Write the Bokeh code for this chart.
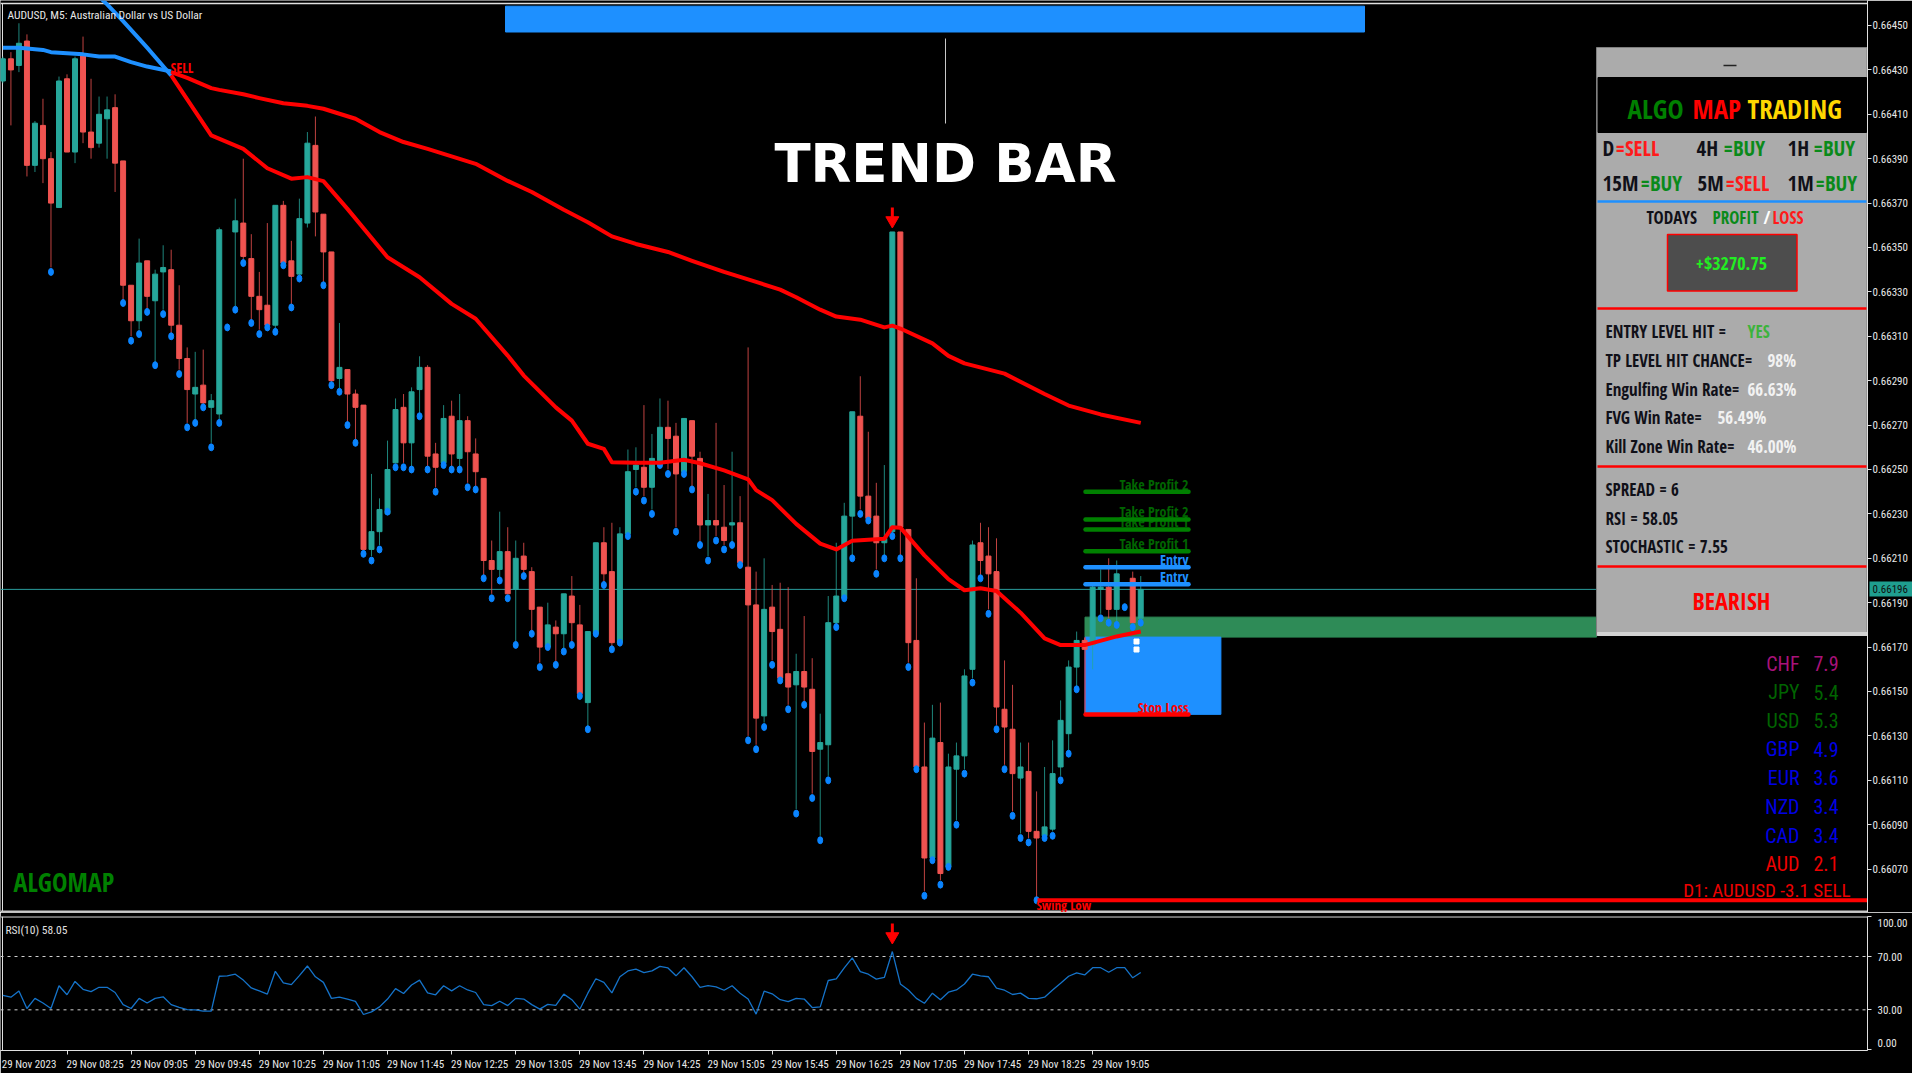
from bokeh.plotting import figure
from bokeh.layouts import column
from bokeh.models import Range1d, LinearAxis, FixedTicker, NumeralTickFormatter
from bokeh.core.properties import value
from bokeh.embed import file_html
from bokeh.resources import INLINE

# ---- candle data, in points above 0.66000 (1 point = 0.00001), bar index = position in the list
bar_open = [425,435,432,443,387,405,390,368,426,393,
 437,402,397,408,413,389,333,317,344,326,
 339,340,315,300,284,288,278,275,None,357,
 361,345,328,324,315,369,344,338,361,396,
 365,348,291,295,284,279,214,222,230,253,
 278,262,286,296,257,253,274,255,272,257,
 246,209,205,213,196,211,204,188,170,179,
 176,193,180,145,176,217,204,172,221,250,
 251,242,254,269,265,249,272,255,225,227,
 224,225,226,206,189,139,188,178,158,153,
 159,151,124,126,181,192,229,274,238,229,
 217,222,357,223,173,116,75,127,71,115,
 121,160,217,211,204,142,133,111,114,87,
 85,88,116,131,161,173,171,196,197,187,
 None,201,183]
bar_high = [436,438,451,446,407,417,393,427,428,436,
 445,426,418,418,419,389,333,354,344,340,
 351,349,333,305,303,304,284,359,None,372,
 390,356,339,361,369,371,353,372,402,409,
 365,348,316,295,286,279,248,237,263,282,
 284,287,301,297,262,279,281,284,274,264,
 246,218,231,224,218,217,206,188,190,182,
 194,202,189,177,217,224,226,224,259,260,
 279,266,282,281,271,273,272,258,239,271,
 243,258,238,305,204,210,198,199,197,167,
 184,165,140,193,217,235,276,292,267,244,
 252,357,357,223,201,136,144,145,122,127,
 160,218,226,224,219,164,153,127,127,105,
 116,128,146,164,177,174,198,205,210,209,
 None,204,202]
bar_low = [424,405,429,382,384,379,341,368,393,388,
 397,390,395,390,375,326,310,313,322,298,
 322,311,295,271,272,279,262,272,None,323,
 344,317,313,315,313,343,324,337,359,355,
 334,289,286,271,263,213,211,216,230,253,
 253,251,275,251,242,253,251,251,244,242,
 202,194,201,194,172,203,177,163,170,163,
 169,172,149,134,176,199,170,172,221,242,
 238,232,253,250,224,249,242,217,211,220,
 216,217,208,130,126,136,164,156,144,97,
 145,104,85,112,180,192,211,232,228,205,
 211,221,211,163,116,60,75,65,71,92,
 115,156,202,187,135,117,96,86,84,56,
 85,87,112,123,152,169,160,185,183,181,
 None,181,183]
bar_close = [435,430,442,387,406,390,370,425,393,435,
 402,395,410,412,388,333,317,343,328,338,
 341,315,300,286,287,280,281,358,None,362,
 346,328,322,315,369,343,337,363,397,366,
 348,290,296,284,278,214,222,232,250,277,
 262,285,296,256,251,273,257,272,258,249,
 209,205,213,194,210,205,187,170,180,176,
 194,181,149,177,217,203,172,221,249,252,
 242,255,269,264,248,273,256,225,227,225,
 218,226,208,189,138,187,177,156,152,159,
 152,123,127,181,193,229,276,238,228,217,
 219,357,224,172,116,75,129,68,116,121,
 157,216,209,203,143,134,113,116,87,84,
 89,113,137,161,173,169,197,197,187,203,
 None,181,196]
fractal_dots = [None,None,None,None,None,None,339,None,None,None,
 None,None,None,None,None,325,308,311,321,297,
 320,310,293,269,271,278,260,271,314,322,
 343,316,311,314,312,342,323,336,None,None,
 333,288,285,270,262,212,209,214,231,251,
 251,250,274,250,240,252,250,250,242,241,
 201,192,200,192,171,202,176,161,170,162,
 168,171,148,133,176,198,169,172,220,240,
 236,230,252,248,222,248,241,216,209,218,
 214,216,207,128,124,134,162,155,142,95,
 144,102,83,110,179,192,210,230,227,203,
 210,220,210,161,115,58,74,63,71,90,
 113,154,201,185,133,115,94,84,82,56,
 84,85,110,122,151,None,None,183,181,180,
 188,179,181]

# ---- moving averages: bar index and value in points
slow_blue_bars = [0,2,5,6,8,10,12,14,16,18,21]
slow_blue_vals = [440,440,439,438,437.5,437,436,436,433.5,431.5,429.3]
slow_red_bars = [21,23,26,27,30,32,35,38,40,44,47,50,53,59,63,66,70,73,76,79,83,86,90,94,97,99,102,104,107,110,111,112,116,118,120,125,130,133,137,142]
slow_red_vals = [429,426.4,421.8,421,419,417.3,415,413.8,412.5,408,402,397.5,394.4,387.7,380,375,367,361.4,355,351.6,348,344,339,334.5,331,327.6,322,318.9,317.5,314,314.8,313.5,306.8,301.2,297.8,293.2,284,278.8,274.8,271]
fast_blue_bars = [12,13,15,18,21]
fast_blue_vals = [463,459.5,452,440,427.5]
fast_red_bars = [21,26,30,33,36,38,40,43,48,52,56,59,63,65,69,71,73,75,76,79,82,85,87,90,93,94,96,99,102,104,106,110,111,112,115,118,120,122,124,127,130,132,135,139,142]
fast_red_vals = [427.5,400.5,394.4,385.7,381,381.7,379.9,367.4,345.6,336.6,324.6,317.9,301.3,292.3,278,272,261.6,259.3,253.3,253,253,254.4,252.8,249.6,245.6,240.7,236.2,225.5,216.6,214,217.9,218.8,224,223.8,211.3,200.6,195.6,196.5,195.3,185.5,173.9,170.9,170.9,174.8,177]

# ---- RSI(10), one value per bar
rsi_vals = [40.8,39.5,44.2,31,38.6,35.1,31,48.1,41.3,51.3,
 45.4,43.7,46.9,46.9,43,33.9,31,38.6,35.1,38.6,
 39.8,33.9,31.9,30.2,30,29,29,55.2,55.5,56.7,
 52.3,46.4,44.2,41.8,58.9,50.3,48.9,55.7,62.9,54.8,
 50.6,38.6,39.5,38.1,36.4,26.5,28.5,32.2,38.1,45.9,
 42.2,48.6,52.3,42.7,41.3,48.1,44.2,48.1,44.9,43,
 33.9,33.2,36.4,33.2,38.6,38.1,33.9,30.5,34.1,33.4,
 41.8,37.6,30.5,42.5,53.3,50.6,42.7,54.8,59.2,60.6,
 57.9,59.2,62.6,61.4,55.5,61.6,54.8,46.9,48.1,47.2,
 44.7,48.1,42.5,38.1,26.8,44,42,37.6,36.1,38.6,
 38.1,31.7,32.2,52,53.3,61.4,69,58.7,56.7,53,
 54.3,73.7,49.4,44.9,38.6,34.9,42.5,37.6,43.2,44.9,
 49.4,56.7,55.5,54.8,46.2,44.7,41.5,42.5,38.6,38.3,
 39.5,44.9,49.9,55.2,57.7,56.2,61.6,61.6,58.2,61.6,
 61.6,54,58.05]

# ---- axis texts
price_ticks = [0.6645,0.6643,0.6641,0.6639,0.6637,0.6635,0.6633,0.6631,0.6629,0.6627,0.6625,0.6623,0.6621,0.6619,0.6617,0.6615,0.6613,0.6611,0.6609,0.6607]
rsi_ticks = [0,30,70,100]
rsi_tick_labels = ["0.00","30.00","70.00","100.00"]
time_labels = ["29 Nov 2023","29 Nov 08:25","29 Nov 09:05","29 Nov 09:45","29 Nov 10:25","29 Nov 11:05","29 Nov 11:45","29 Nov 12:25","29 Nov 13:05","29 Nov 13:45","29 Nov 14:25","29 Nov 15:05","29 Nov 15:45","29 Nov 16:25","29 Nov 17:05","29 Nov 17:45","29 Nov 18:25","29 Nov 19:05"]
time_tick_bars = [0,8,16,24,32,40,48,56,64,72,80,88,96,104,112,120,128,136]

# ---- levels (points)
level_names = ["Take Profit 2","Take Profit 2","Take Profit 1","Take Profit 1","Entry","Entry","Stop Loss"]
level_vals = [240,227.5,223,213.2,206,198.3,139.6]
last_price = 196
swing_low = 56
currencies = ["CHF","JPY","USD","GBP","EUR","NZD","CAD","AUD"]
strength = ["7.9","5.4","5.3","4.9","3.6","3.4","3.4","2.1"]

# ---- conversion of bars/points and of picture positions
THIN_NAME = "Roboto Condensed"
THIN = value(THIN_NAME)
HEAVY = value("Open Sans Condensed")
GREEN, RED_C = "#26A69A", "#EF5350"
BLUE = "#1E90FF"
LINE = "#E0E0E0"
def pr(v):  return 0.66 + v * 1e-5
def fx(x):  return (x - 2.4) / 8.013
def fy(y):  return pr(461.26 - 0.45045 * y)
def ry(y):  return (1049.3 - y) / 1.333

x_range = Range1d(fx(0), fx(1867))
p = figure(frame_width=1867, frame_height=912, x_range=x_range, y_range=Range1d(fy(912), fy(0)),
           output_backend="svg", toolbar_location=None, x_axis_location=None, y_axis_location=None,
           background_fill_color="#000000", border_fill_color="#000000", outline_line_color=None,
           min_border_left=0, min_border_top=0, min_border_bottom=0, min_border_right=45)
p.grid.visible = False
q = figure(frame_width=1867, frame_height=134, x_range=x_range, y_range=Range1d(-0.5, 100),
           output_backend="svg", toolbar_location=None, x_axis_location=None, y_axis_location=None,
           background_fill_color="#000000", border_fill_color="#000000", outline_line_color=None,
           min_border_left=0, min_border_top=4, min_border_bottom=22, min_border_right=45)
q.grid.visible = False

price_axis = LinearAxis(ticker=FixedTicker(ticks=price_ticks), axis_line_color=LINE, major_tick_line_color=LINE,
                        major_tick_in=0, major_tick_out=4, minor_tick_line_color=None, major_label_standoff=1,
                        major_label_text_color="#E8E8E8", major_label_text_font=THIN_NAME,
                        major_label_text_font_size="11px", formatter=NumeralTickFormatter(format="0.00000"))
p.add_layout(price_axis, "right")
# last price tag: a short, thick stretch of a second axis with its one tick label on it
tag_axis = LinearAxis(ticker=FixedTicker(ticks=[pr(last_price)]), bounds=(pr(last_price - 3.4), pr(last_price + 3.4)),
                      axis_line_color="#1F9E8F", axis_line_width=82, major_tick_line_color=None, minor_tick_line_color=None,
                      major_tick_in=0, major_tick_out=0, major_label_standoff=-38, major_label_text_color="#101010",
                      major_label_text_font=THIN_NAME, major_label_text_font_size="11px",
                      formatter=NumeralTickFormatter(format="0.00000"))
p.add_layout(tag_axis, "right")

# RSI scale: ticks on the levels, outer labels pulled inside the panel as on the chart
rsi_mark_axis = LinearAxis(ticker=FixedTicker(ticks=rsi_ticks), major_label_overrides={k: "" for k in rsi_ticks},
                           axis_line_color=LINE, major_tick_line_color=LINE, major_tick_in=0, major_tick_out=4,
                           minor_tick_line_color=None, major_label_standoff=0, major_label_text_font_size="1px",
                           major_label_text_color=None)
q.add_layout(rsi_mark_axis, "right")
rsi_label_pos = [5.3, 30, 70, 95.5]
rsi_label_axis = LinearAxis(ticker=FixedTicker(ticks=rsi_label_pos), major_label_overrides=dict(zip(rsi_label_pos, rsi_tick_labels)),
                            axis_line_color=None, major_tick_line_color=None, minor_tick_line_color=None,
                            major_label_standoff=0, major_label_text_color="#E8E8E8",
                            major_label_text_font=THIN_NAME, major_label_text_font_size="11px")
q.add_layout(rsi_label_axis, "right")

# bottom axes: tick marks on the bars, labels to the right of their ticks as on the chart
tick_axis = LinearAxis(ticker=FixedTicker(ticks=time_tick_bars[1:]), major_label_overrides={k: "" for k in time_tick_bars[1:]},
                       axis_line_color=LINE, major_tick_line_color=LINE, major_tick_in=0, major_tick_out=4,
                       minor_tick_line_color=None, major_label_standoff=0, major_label_text_font_size="1px",
                       major_label_text_color=None)
q.add_layout(tick_axis, "below")
label_pos = [3.27] + [b + 3.5 for b in time_tick_bars[1:]]
label_axis = LinearAxis(ticker=FixedTicker(ticks=label_pos), major_label_overrides=dict(zip(label_pos, time_labels)),
                        axis_line_color=None, major_tick_line_color=None, minor_tick_line_color=None,
                        major_label_standoff=-3, major_label_text_color="#E8E8E8",
                        major_label_text_font=THIN_NAME, major_label_text_font_size="11px")
q.add_layout(label_axis, "below")

# chart frame lines of the picture
p.line([fx(0), fx(1867)], [fy(3), fy(3)], color=LINE, line_width=1.5)
p.line([fx(2), fx(2)], [fy(3), fy(912)], color=LINE, line_width=1)
p.line([fx(0), fx(1867)], [fy(911), fy(911)], color="#C8C8C8", line_width=2)
q.line([fx(0), fx(1867)], [ry(916.5), ry(916.5)], color=LINE, line_width=1)
q.line([fx(2), fx(2)], [ry(916), ry(1050)], color=LINE, line_width=1)

# zones under the candles
p.quad(left=fx(1084.5), right=fx(1596), top=pr(183.5), bottom=pr(174.5), color="#2E8B57")
p.quad(left=fx(1084.5), right=fx(1220.4), top=pr(174.5), bottom=pr(139.7), color=BLUE)
p.segment(fx(1084.5), pr(174.5), fx(1084.5), pr(139.7), color="#FF3030", line_width=1)
p.segment(fx(0), pr(last_price), fx(1596), pr(last_price), color="#2A9D9D", line_width=1)

# candles
ix = [i for i, v in enumerate(bar_open) if v is not None]
up = [i for i in ix if bar_close[i] >= bar_open[i]]
dn = [i for i in ix if bar_close[i] < bar_open[i]]
for idx, col in ((up, GREEN), (dn, RED_C)):
    p.segment(idx, [pr(bar_high[i]) for i in idx], idx, [pr(bar_low[i]) for i in idx], color=col, line_width=1, line_alpha=0.8)
    p.vbar(x=idx, width=0.62, top=[pr(max(bar_open[i], bar_close[i])) for i in idx],
           bottom=[pr(min(bar_open[i], bar_close[i])) for i in idx], color=col)
dot_ix = [i for i, v in enumerate(fractal_dots) if v is not None]
p.ellipse(x=dot_ix, y=[pr(fractal_dots[i]) for i in dot_ix], width=5, height=7, width_units="screen",
          height_units="screen", color="#0A84FF")

# moving averages
for bars, vals, col in ((slow_blue_bars, slow_blue_vals, BLUE), (fast_blue_bars, fast_blue_vals, BLUE),
                        (slow_red_bars, slow_red_vals, "#FF0000"), (fast_red_bars, fast_red_vals, "#FF0000")):
    p.line(bars, [pr(v) for v in vals], color=col, line_width=4, line_join="round")

# texts helper
def txt(fig, x, y, s, color, size, bold=False, align="left", font=None):
    f = font if font is not None else (HEAVY if bold else THIN)
    fig.text(x=[x], y=[y], text=[s], text_color=color, text_font=f, text_font_size=f"{size}px",
             text_font_style="bold" if bold else "normal", text_align=align, text_baseline="middle")

# level lines and their labels
for name, lv in zip(level_names, level_vals):
    col = "#006400" if name.startswith("Take") else (BLUE if name == "Entry" else "#FF0000")
    txt(p, fx(1188), pr(lv) + 7.5 * 0.45045e-5, name, col, 14, True, "right")
for name, lv in zip(level_names, level_vals):
    col = "#008000" if name.startswith("Take") else (BLUE if name == "Entry" else "#FF0000")
    p.line([fx(1085), fx(1188)], [pr(lv), pr(lv)], color=col, line_width=4.5, line_cap="round")
p.scatter([fx(1136), fx(1136)], [fy(641), fy(649)], marker="square", size=5, color="#FFFFFF")

# swing low
txt(p, fx(1036), fy(904), "Swing Low", "#FF0000", 13, True)
txt(p, fx(170), fy(67), "SELL", "#FF0000", 14, True)
txt(p, fx(7), fy(14), "AUDUSD, M5:  Australian Dollar vs US Dollar", "#E8E8E8", 11.5)
txt(p, fx(13), fy(881), "ALGOMAP", "#008000", 26, True)

# top banner
p.quad(left=fx(505), right=fx(1364), top=fy(5.7), bottom=fy(31.5), color=BLUE)
p.segment(fx(945), fy(38), fx(945), fy(123), color="#C8C8C8", line_width=1)
txt(p, fx(945), fy(162.5), "TREND BAR", "#FFFFFF", 53, True, "center", value("DejaVu Sans"))

# signal arrows
p.segment(111, fy(207), 111, fy(220), color="#FF0000", line_width=3)
p.scatter([111], [fy(220)], marker="inverted_triangle", size=13, color="#FF0000")
q.segment(111, ry(923), 111, ry(936), color="#FF0000", line_width=3)
q.scatter([111], [ry(936)], marker="inverted_triangle", size=13, color="#FF0000")

# RSI
for lv in (70, 30):
    q.line([fx(0), fx(1867)], [lv, lv], color="#D0D0D0", line_width=1, line_dash="3 4")
q.line(list(range(len(rsi_vals))), rsi_vals, color="#1573C9", line_width=1.3)
txt(q, fx(5), ry(929), "RSI(10) 58.05", "#E0E0E0", 11.5)

# side panel
GREY = "#ABABAB"
p.quad(left=fx(1596), right=fx(1866.5), top=fy(47), bottom=fy(635), color=GREY, line_color="#7F7F7F")
p.quad(left=fx(1597), right=fx(1866.5), top=fy(632), bottom=fy(635), color="#D2D2D2")
p.quad(left=fx(1597.5), right=fx(1866), top=fy(77), bottom=fy(132), color="#000000")
p.segment(fx(1723), fy(65), fx(1736), fy(65), color="#222222", line_width=1.5)
txt(p, fx(1627), fy(108), "ALGO", "#008000", 27, True)
txt(p, fx(1692), fy(108), "MAP", "#FF0000", 27, True)
txt(p, fx(1747), fy(108), "TRADING", "#FFD700", 27, True)
DARK, SIG_G, SIG_R = "#101018", "#0A8A1A", "#FF1A1A"
for x1, x2, y, a, b, col in ((1602,1615,147,"D","=SELL",SIG_R),(1696,1723,147,"4H","=BUY",SIG_G),(1787,1813,147,"1H","=BUY",SIG_G),
                             (1602,1640,182,"15M","=BUY",SIG_G),(1697,1725,182,"5M","=SELL",SIG_R),(1787,1815,182,"1M","=BUY",SIG_G)):
    txt(p, fx(x1), fy(y), a, DARK, 21, True)
    txt(p, fx(x2), fy(y), b, col, 21, True)
p.line([fx(1597), fx(1866)], [fy(201), fy(201)], color=BLUE, line_width=2.5)
txt(p, fx(1646), fy(217), "TODAYS", DARK, 17, True)
txt(p, fx(1712), fy(217), "PROFIT", "#0A8A1A", 17, True)
txt(p, fx(1763), fy(217), "/", "#FFFFFF", 17, True)
txt(p, fx(1772), fy(217), "LOSS", "#FF1A1A", 17, True)
p.quad(left=fx(1667), right=fx(1796.5), top=fy(234), bottom=fy(290.5), color="#4D4D4D", line_color="#FF0000", line_width=1.5)
txt(p, fx(1731), fy(262), "+$3270.75", "#22EE22", 18, True, "center")
for y in (308, 466, 566):
    p.line([fx(1597), fx(1866)], [fy(y), fy(y)], color="#FF0000", line_width=2.5)
for y, a, x2, b, col in ((331,"ENTRY LEVEL HIT =",1747,"YES","#3CB33C"),(360,"TP LEVEL HIT CHANCE=",1767,"98%","#F2F2F2"),
                         (389,"Engulfing Win Rate=",1747,"66.63%","#F2F2F2"),(417,"FVG Win Rate=",1717,"56.49%","#F2F2F2"),
                         (446,"Kill Zone Win Rate=",1747,"46.00%","#F2F2F2")):
    txt(p, fx(1605), fy(y), a, DARK, 17, True)
    txt(p, fx(x2), fy(y), b, col, 17, True)
for y, s in ((489,"SPREAD = 6"),(518,"RSI = 58.05"),(546,"STOCHASTIC = 7.55")):
    txt(p, fx(1605), fy(y), s, DARK, 17, True)
txt(p, fx(1731), fy(600), "BEARISH", "#FF0000", 24, True, "center")

# currency strength list
cur_cols = ["#A8127A","#006400","#006400","#0000E6","#0000E6","#0000E6","#0000E6","#EE0000"]
cur_y = [663,691.7,720,748.7,777,806,835,863]
for n, s, c, y in zip(currencies, strength, cur_cols, cur_y):
    txt(p, fx(1799), fy(y), n, c, 20, False, "right")
    txt(p, fx(1813), fy(y), s, c, 20)
txt(p, fx(1850), fy(890), "D1: AUDUSD -3.1 SELL", "#EE0000", 19, False, "right")
p.line([fx(1037), fx(1867)], [pr(swing_low), pr(swing_low)], color="#FF0000", line_width=4)

page = column(p, q, spacing=0)
open("out.html", "w").write(file_html(page, INLINE))
